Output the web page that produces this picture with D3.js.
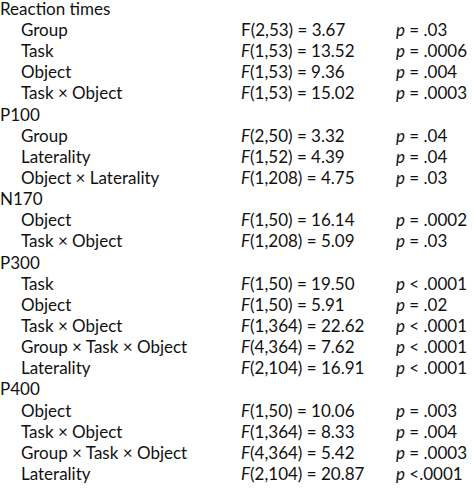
<!DOCTYPE html><html><head><script src="https://cdn.jsdelivr.net/npm/d3@7"></script>
<style>body{margin:0;background:#fff}</style></head><body><svg id="c" width="474" height="488"></svg>
<script>
const groups = ["Reaction times","P100","N170","P300","P400"];
const effects = [
 ["Group","Task","Object","Task × Object"],
 ["Group","Laterality","Object × Laterality"],
 ["Object","Task × Object"],
 ["Task","Object","Task × Object","Group × Task × Object","Laterality"],
 ["Object","Task × Object","Group × Task × Object","Laterality"]];
const dfs = [["2,53","1,53","1,53","1,53"],["2,50","1,52","1,208"],["1,50","1,208"],["1,50","1,50","1,364","4,364","2,104"],["1,50","1,364","4,364","2,104"]];
const fvals = [["3.67","13.52","9.36","15.02"],["3.32","4.39","4.75"],["16.14","5.09"],["19.50","5.91","22.62","7.62","16.91"],["10.06","8.33","5.42","20.87"]];
const pvals = [["= .03","= .0006","= .004","= .0003"],["= .04","= .04","= .03"],["= .0002","= .03"],["< .0001","= .02","< .0001","< .0001","< .0001"],["= .003","= .004","= .0003","<.0001"]];
const rows=[];
groups.forEach((g,i)=>{rows.push({t:g,head:true});effects[i].forEach((e,j)=>rows.push({t:e,df:dfs[i][j],f:fvals[i][j],p:pvals[i][j],italF:!(i===0&&j===0)}));});
const svg=d3.select("#c");
const y=d3.scalePoint().domain(d3.range(rows.length)).range([9,474]);
const g=svg.selectAll("g").data(rows).join("g").attr("transform",(d,i)=>`translate(0,${y(i)})`)
 .style("font-family","Lato, 'Open Sans', sans-serif").style("font-size","17px").attr("fill","#111");
g.append("text").attr("x",d=>d.head?0:21).attr("dy","0.35em").text(d=>d.t);
const fr=g.filter(d=>!d.head);
const ft=fr.append("text").attr("x",241).attr("dy","0.35em").attr("xml:space","preserve");
ft.append("tspan").style("font-style",d=>d.italF?"italic":"normal").text("F");
ft.append("tspan").text(d=>`(${d.df}) = ${d.f}`);
const pt=fr.append("text").attr("x",396).attr("dy","0.35em");
pt.append("tspan").style("font-style","italic").text("p");
pt.append("tspan").text(d=>" "+d.p);
</script></body></html>
